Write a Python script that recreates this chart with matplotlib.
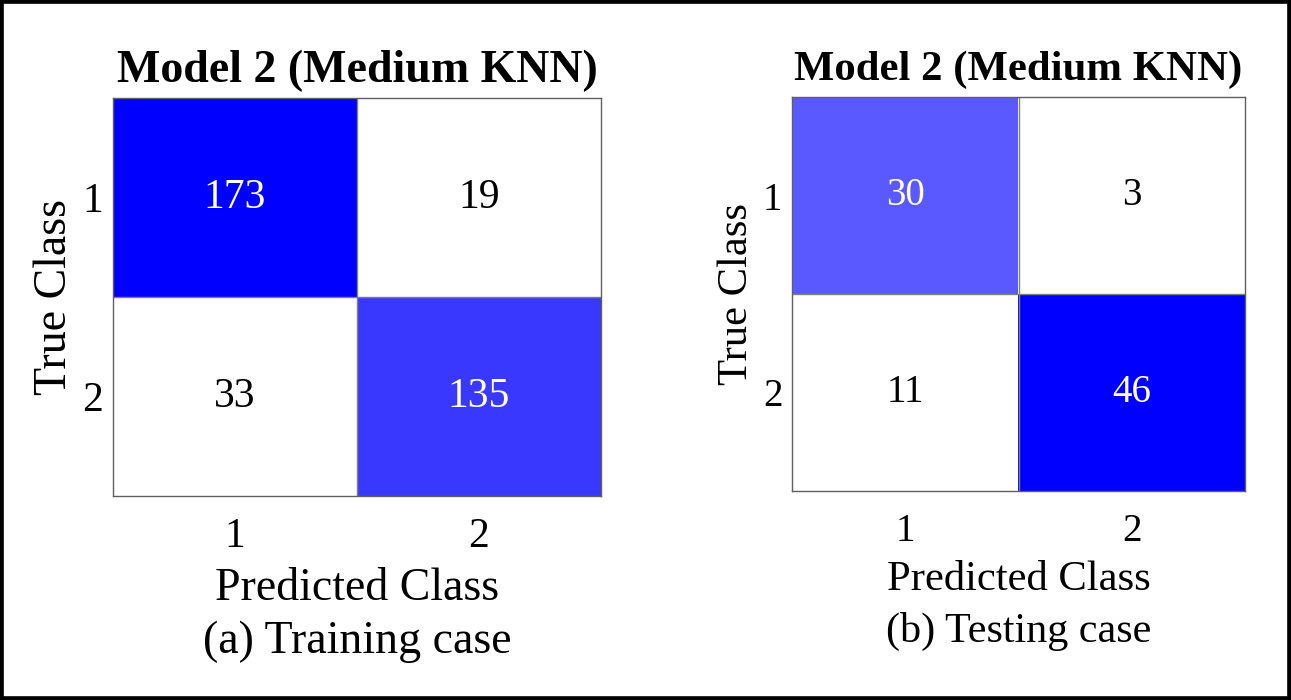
import numpy as np
import matplotlib
matplotlib.use("Agg")
import matplotlib.pyplot as plt
from matplotlib.colors import LinearSegmentedColormap, Normalize
from matplotlib.patches import Rectangle

# ---- data ----
classes = ["1", "2"]
train_cm = [[173, 19],
            [33, 135]]
test_cm = [[30, 3],
           [11, 46]]
chart_title = "Model 2 (Medium KNN)"
x_label = "Predicted Class"
y_label = "True Class"
captions = ["(a) Training case", "(b) Testing case"]

plt.rcParams["font.family"] = ["Liberation Serif", "DejaVu Serif"]

W, H = 1291, 700
fig = plt.figure(figsize=(W / 100, H / 100), dpi=100)


def fx(px):
    return px / W


def fy(py):
    return 1 - py / H


cmap = LinearSegmentedColormap.from_list("wb", ["#ffffff", "#0000ff"])
cmap.set_bad("white")

panels = [
    dict(cm=train_cm, box=(113, 98, 601, 496), title_fs=33, title_pad=11.5,
         tick_fs=30, num_fs=30, lab_fs=33, cap_fs=33,
         xlab_y=600, cap_y=653, ylab_x=66, caption=captions[0]),
    dict(cm=test_cm, box=(792, 97, 1245, 491), title_fs=30.8, title_pad=12,
         tick_fs=28, num_fs=28, lab_fs=30.7, cap_fs=30.3,
         xlab_y=590, cap_y=642, ylab_x=747, caption=captions[1]),
]

for p in panels:
    x0, y0, x1, y1 = p["box"]
    ax = fig.add_axes([fx(x0), fy(y1), fx(x1) - fx(x0), fy(y0) - fy(y1)])
    cm = np.array(p["cm"], dtype=float)
    n = len(classes)
    diag_mask = ~np.eye(n, dtype=bool)
    data = np.ma.array(cm, mask=diag_mask)
    norm = Normalize(vmin=0, vmax=np.max(np.diag(cm)))
    ax.imshow(data, cmap=cmap, norm=norm, aspect="auto",
              interpolation="nearest")
    for i in range(n):
        for j in range(n):
            color = "white" if i == j else "black"
            ax.text(j, i, f"{int(cm[i, j])}", ha="center", va="center",
                    color=color, fontsize=p["num_fs"])
    for k in range(n - 1):
        ax.axhline(k + 0.5, color="#808080", lw=1)
        ax.axvline(k + 0.5, color="#808080", lw=1)
    for s in ax.spines.values():
        s.set_color("#606060")
        s.set_linewidth(1)
    ax.set_xticks(range(n))
    ax.set_yticks(range(n))
    ax.set_xticklabels(classes)
    ax.set_yticklabels(classes)
    ax.tick_params(axis="x", length=0, pad=15.5, labelsize=p["tick_fs"])
    ax.tick_params(axis="y", length=0, pad=7, labelsize=p["tick_fs"])
    ax.set_title(chart_title, fontweight="bold", fontsize=p["title_fs"],
                 pad=p["title_pad"])
    cx = (x0 + x1) / 2
    cy = (y0 + y1) / 2
    fig.text(fx(cx), fy(p["xlab_y"]), x_label, ha="center", va="baseline",
             fontsize=p["lab_fs"])
    fig.text(fx(cx), fy(p["cap_y"]), p["caption"], ha="center",
             va="baseline", fontsize=p["cap_fs"])
    fig.text(fx(p["ylab_x"]), fy(cy), y_label, rotation=90,
             rotation_mode="anchor", ha="center", va="baseline",
             fontsize=p["lab_fs"])

# outer black frame
fig.patches.append(Rectangle((0, 0), 1, 1, transform=fig.transFigure,
                             fill=False, edgecolor="black", lw=5.5,
                             clip_on=False))

fig.savefig("out.png", dpi=100, facecolor="white")
